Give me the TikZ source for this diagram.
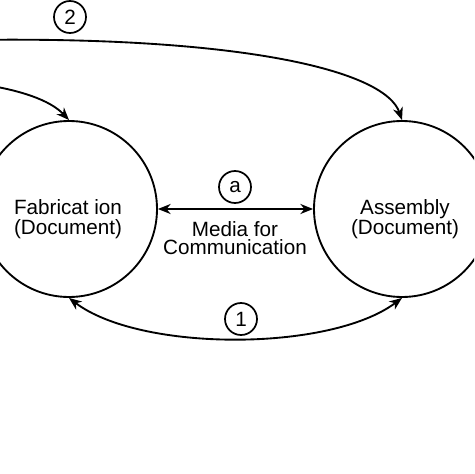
\documentclass[tikz,border=0pt]{standalone}
\usepackage{fontspec}
\setmainfont{Liberation Sans}
\usetikzlibrary{arrows.meta}

\begin{document}
\begin{tikzpicture}[x=0.75pt,y=0.75pt,yscale=-1,
  doc/.style={draw,circle,line width=1.4pt,minimum size=132pt,inner sep=0pt},
  doctext/.style={align=center,inner sep=0pt,font=\fontsize{15.5}{15}\selectfont},
  tag/.style={draw,circle,line width=1.3pt,minimum size=24pt,inner sep=0pt,font=\fontsize{15.5}{18}\selectfont},
  arr/.style={line width=1.4pt,>={Stealth[length=9.5pt,width=7.5pt,inset=3pt]}}]
\clip (0,0) rectangle (474,474);

%Documents
\node[doc] (fab) at (69,209) {};
\node[doc] (asm) at (402,209) {};
\node[doctext] (fabtxt) at (68,219) {Fabricat ion\\(Document)};
\node[doctext] (asmtxt) at (405,219) {Assembly\\(Document)};

%Media
\draw[arr,<->] (fab.east) -- (asm.west);
\node[tag] (ta) at (235,187) {a};
\node[doctext,font=\fontsize{15.5}{13}\selectfont] (media) at (235,238) {Media for\\Communication};

%Path 1
\draw[arr,<->] (fab.south) .. controls (140,352) and (330,352) .. (asm.south);
\node[tag] (t1) at (241,319) {1};

%Path 2 (coming in from the left)
\coordinate (in2) at (-30,40);
\coordinate (in3) at (-20,84);
\draw[arr,->] (in2) .. controls (240,36) and (385,70) .. (asm.north);
\draw[arr,->] (in3) .. controls (20,90) and (50,100) .. (fab.north);
\node[tag] (t2) at (70,17) {2};

\end{tikzpicture}
\end{document}
